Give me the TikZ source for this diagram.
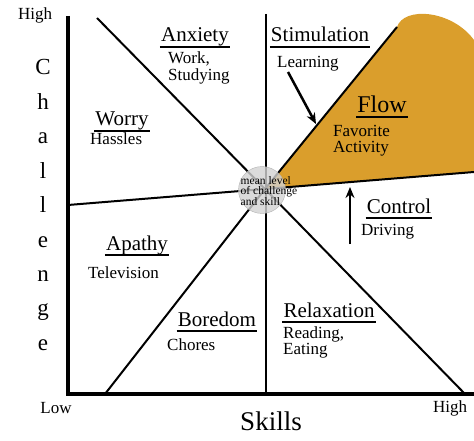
\documentclass[tikz,border=0pt]{standalone}
\usepackage{fontspec}
\setmainfont{Liberation Serif}
\usepackage{tikz}
\usetikzlibrary{arrows.meta}

\definecolor{flowgold}{RGB}{218,158,44}

\begin{document}
\begin{tikzpicture}[x=1pt,y=-1pt,
    axis/.style={line width=4pt, line join=miter},
    divide/.style={line width=2pt},
    zone/.style={font=\fontsize{21}{22}\selectfont, anchor=base, inner xsep=1pt, inner ysep=0pt, text depth=5pt},
    zoneline/.style={line width=2.5pt},
    hint/.style={font=\fontsize{17}{16}\selectfont, anchor=base west, align=left, inner sep=0pt},
    tick/.style={font=\fontsize{17}{18}\selectfont, anchor=base},
    pointer/.style={line width=2.5pt, -{Stealth[length=11pt,width=9pt]}}]
  \useasboundingbox (0,0) rectangle (474,441);

  % where the eight regions meet
  \coordinate (hub) at (265,189);
  \coordinate (ulEnd) at (97,18);
  \coordinate (lEnd) at (68,205);
  \coordinate (llEnd) at (105,394);
  \coordinate (upEnd) at (266,14);
  \coordinate (downEnd) at (266,394);
  \coordinate (lrEnd) at (465,394);
  \coordinate (rEnd) at (474,172);
  \coordinate (urEnd) at (397,27);

  % flow channel
  \fill[flowgold] (hub) -- (urEnd) .. controls (404,6) and (452,10) .. (474,40) -- (rEnd) -- cycle;

  \draw[divide] (ulEnd) -- (hub) -- (lrEnd);
  \draw[divide] (lEnd) -- (hub) -- (rEnd);
  \draw[divide] (llEnd) -- (hub) -- (urEnd);
  \draw[divide] (upEnd) -- (downEnd);

  % axes
  \coordinate (yTop) at (68,16);
  \coordinate (origin) at (68,394);
  \coordinate (xEnd) at (474,394);
  \draw[axis] (yTop) -- (origin) -- (xEnd);

  \node[circle, minimum size=47pt, fill=gray!35, fill opacity=0.8, draw=gray!60] (hubdisk) at (262,190) {};
  \node[font=\fontsize{11.5}{10}\selectfont, align=left, inner sep=0pt] (hubtext) at (269,191) {mean level\\of challenge\\and skill};

  % regions (hint nodes sit on the baseline of their last line)
  \node[zone] (anxiety) at (195,42) {Anxiety};
  \draw[zoneline] (anxiety.south west) -- (anxiety.south east);
  \node[hint] (anxietyEx) at (168,81) {Work,\\[1.5pt]Studying};

  \node[zone] (stim) at (320,42) {Stimulation};
  \draw[zoneline] (stim.south west) -- (stim.south east);
  \node[hint] (stimEx) at (277,68) {Learning};

  \node[zone, font=\fontsize{24}{25}\selectfont, text depth=4pt] (flow) at (382,113) {Flow};
  \draw[zoneline] (flow.south west) -- (flow.south east);
  \node[hint] (flowEx) at (333,153) {Favorite\\Activity};

  \node[zone] (worry) at (122,126) {Worry};
  \draw[zoneline] (worry.south west) -- (worry.south east);
  \node[hint] (worryEx) at (90,145) {Hassles};

  \node[zone] (apathy) at (137,250) {Apathy};
  \draw[zoneline] (apathy.south west) -- (apathy.south east);
  \node[hint] (apathyEx) at (88,278) {Television};

  \node[zone] (control) at (399,213) {Control};
  \draw[zoneline] (control.south west) -- (control.south east);
  \node[hint] (controlEx) at (361,235) {Driving};

  \node[zone] (boredom) at (217,326) {Boredom};
  \draw[zoneline] (boredom.south west) -- (boredom.south east);
  \node[hint] (boredomEx) at (167,350) {Chores};

  \node[zone] (relax) at (329,317) {Relaxation};
  \draw[zoneline] (relax.south west) -- (relax.south east);
  \node[hint] (relaxEx) at (283,354) {Reading,\\Eating};

  % arrows into the channel
  \coordinate (lrnTail) at (288,72);
  \coordinate (lrnHead) at (316,124);
  \draw[pointer] (lrnTail) -- (lrnHead);
  \coordinate (ctlTail) at (350,244);
  \coordinate (ctlHead) at (350,187);
  \draw[pointer] (ctlTail) -- (ctlHead);

  % axis labels
  \node[tick] (highY) at (35,20) {High};
  \node[tick] (lowX) at (56,413) {Low};
  \node[tick] (highX) at (450,412) {High};
  \node[tick, font=\fontsize{27}{28}\selectfont] (skills) at (271,430) {Skills};
  \foreach \ch [count=\i from 0] in {C,h,a,l,l,e,n,g,e}
    \node[font=\fontsize{23}{24}\selectfont, anchor=base] (chal\i) at (43,75+34.4*\i) {\ch};
\end{tikzpicture}
\end{document}
